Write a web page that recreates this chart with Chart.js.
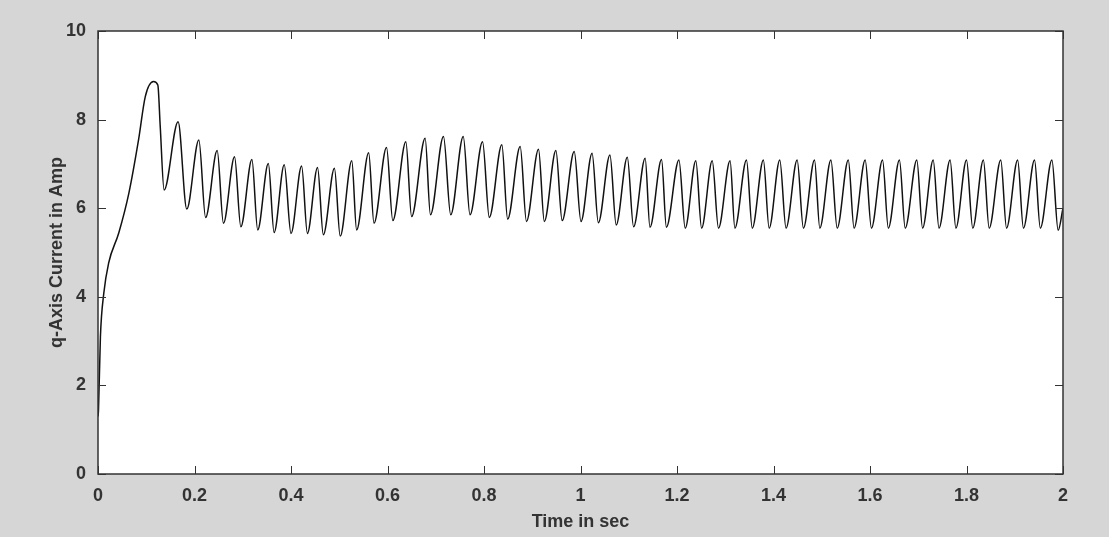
<!DOCTYPE html>
<html><head><meta charset="utf-8">
<script src="https://cdn.jsdelivr.net/npm/chart.js@4"></script>
<style>html,body{margin:0;padding:0;background:#d6d6d6;}#w{width:1109px;height:537px;}</style>
</head><body><div id="w"><canvas id="c"></canvas></div>
<script>
const timeSec = [0,0.001,0.005,0.012,0.022,0.043,0.064,0.084,0.098,0.115,0.124,0.129,0.137,
0.166,0.184,0.209,0.223,0.247,0.260,0.283,0.296,0.319,0.331,0.353,0.365,0.386,0.400,0.422,0.434,0.455,0.467,0.490,0.502,
0.526,0.536,0.561,0.572,0.598,0.611,0.638,0.650,0.678,0.689,0.716,0.731,0.757,0.771,0.797,0.811,0.837,0.849,0.875,0.888,
0.913,0.925,0.949,0.962,0.987,1.001,1.024,1.037,1.061,1.074,1.097,1.110,1.134,1.144,1.168,1.178,1.204,1.217,1.239,1.251,
1.273,1.286,1.310,1.320,1.344,1.356,1.379,1.391,1.413,1.426,1.449,1.462,1.485,1.496,1.519,1.532,1.555,1.567,1.590,1.603,
1.626,1.638,1.661,1.673,1.697,1.709,1.731,1.743,1.766,1.778,1.800,1.813,1.835,1.847,1.871,1.883,1.906,1.918,1.941,1.953,
1.977,1.990,2.0];
const currentAmp = [1.3,1.44,3.10,4.08,4.76,5.44,6.34,7.54,8.52,8.86,8.78,7.84,6.41,
7.95,5.98,7.54,5.79,7.30,5.66,7.16,5.58,7.10,5.51,7.01,5.45,6.98,5.43,6.95,5.43,6.92,5.40,6.90,5.37,
7.07,5.51,7.25,5.66,7.37,5.72,7.50,5.81,7.58,5.85,7.62,5.85,7.62,5.85,7.50,5.79,7.43,5.75,7.39,5.70,
7.33,5.70,7.30,5.72,7.28,5.70,7.24,5.67,7.20,5.62,7.15,5.58,7.13,5.57,7.10,5.57,7.09,5.55,7.07,5.55,
7.07,5.55,7.07,5.55,7.09,5.55,7.09,5.55,7.09,5.55,7.09,5.55,7.09,5.55,7.09,5.55,7.09,5.55,7.09,5.55,
7.09,5.55,7.09,5.55,7.09,5.55,7.09,5.55,7.09,5.55,7.09,5.55,7.09,5.55,7.09,5.55,7.09,5.55,7.09,5.55,
7.09,5.50,6.0];
const xTicks = [0,0.2,0.4,0.6,0.8,1,1.2,1.4,1.6,1.8,2];
const yTicks = [0,2,4,6,8,10];

const font = {family:'"Liberation Sans", Arial, sans-serif', size:18, weight:'bold'};
const inTicks = {
  id:'inTicks',
  afterDraw(ch){
    const {ctx, chartArea:a, scales:{x,y}} = ch;
    ctx.save(); ctx.strokeStyle='#333'; ctx.lineWidth=1;
    ctx.beginPath();
    xTicks.forEach(v=>{const p=Math.round(x.getPixelForValue(v))+0.5;
      ctx.moveTo(p,a.bottom);ctx.lineTo(p,a.bottom-8);ctx.moveTo(p,a.top);ctx.lineTo(p,a.top+8);});
    yTicks.forEach(v=>{const p=Math.round(y.getPixelForValue(v))+0.5;
      ctx.moveTo(a.left,p);ctx.lineTo(a.left+8,p);ctx.moveTo(a.right,p);ctx.lineTo(a.right-8,p);});
    ctx.stroke();
    ctx.lineWidth=1.5; ctx.strokeRect(a.left,a.top,a.right-a.left,a.bottom-a.top);
    ctx.restore();
  }
};
const bg = {id:'bg',beforeDraw(ch){const {ctx,chartArea:a}=ch;ctx.save();ctx.fillStyle='#fff';ctx.fillRect(a.left,a.top,a.right-a.left,a.bottom-a.top);ctx.restore();}};

new Chart(document.getElementById('c'),{
  type:'line',
  data:{datasets:[{data:timeSec.map((t,i)=>({x:t,y:currentAmp[i]})),borderColor:'#111',borderWidth:1.5,pointRadius:0,cubicInterpolationMode:'monotone',fill:false}]},
  options:{
    responsive:true,maintainAspectRatio:false,animation:false,
    layout:{padding:{top:31,right:46,left:42,bottom:0}},
    plugins:{legend:{display:false},tooltip:{enabled:false}},
    scales:{
      x:{type:'linear',min:0,max:2,
        afterBuildTicks(s){s.ticks=xTicks.map(v=>({value:v}));},
        afterFit(s){s.height=63;},
        grid:{display:false},border:{display:false},
        ticks:{color:'#333',font:font,padding:3,maxRotation:0,callback:v=>String(v)},
        title:{display:true,text:'Time in sec',color:'#333',font:font,padding:{top:0}}},
      y:{min:0,max:10,
        afterBuildTicks(s){s.ticks=yTicks.map(v=>({value:v}));},
        afterFit(s){s.width=56;},
        grid:{display:false},border:{display:false},
        ticks:{color:'#333',font:font,padding:4},
        title:{display:true,text:'q-Axis Current in Amp',color:'#333',font:font,padding:{bottom:0}}}
    }
  },
  plugins:[bg,inTicks]
});
</script></body></html>
